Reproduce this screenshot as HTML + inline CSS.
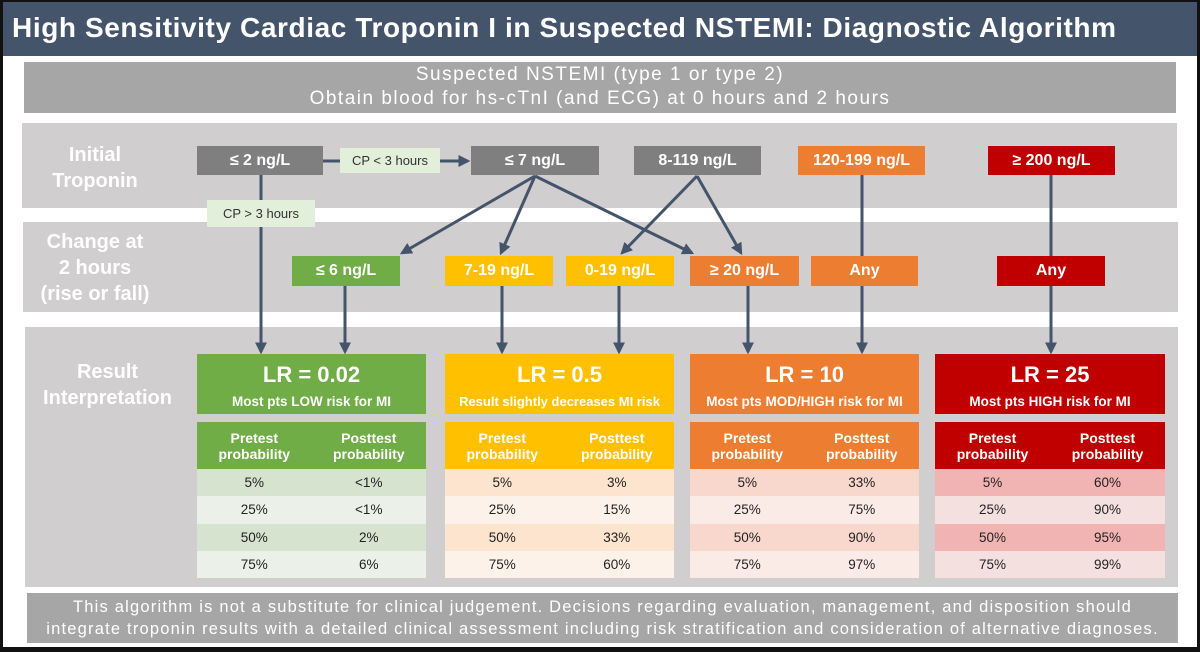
<!DOCTYPE html>
<html><head><meta charset="utf-8"><style>
*{margin:0;padding:0;box-sizing:border-box}
body{width:1200px;height:652px;background:#fff;font-family:"Liberation Sans",sans-serif;position:relative;overflow:hidden}
.a{position:absolute}
.frame{left:0;top:0;width:1200px;height:652px;border:3px solid #111;border-top-width:2px;border-bottom-width:5px}
.band{background:#d0cece}
.lbl{color:#fff;font-weight:bold;font-size:20px;text-align:center;line-height:26px}
.bx{color:#fff;font-weight:bold;font-size:16px;display:flex;align-items:center;justify-content:center}
.cp{background:#e2efda;color:#333;font-size:13px;display:flex;align-items:center;justify-content:center}
.res{color:#fff;text-align:center;font-weight:bold}
.res .t{font-size:22px;padding-top:8px;line-height:26px}
.res .s{font-size:13.5px;margin-top:6px;white-space:nowrap}
table{border-collapse:collapse;width:229px;font-size:13.5px;color:#222;text-align:center}
th{color:#fff;height:47px;font-size:14px;line-height:16px;width:50%}
td{height:27.3px}
</style></head><body>
<div class="a" style="left:0;top:0;width:1200px;height:56px;background:#44546a;color:#fff;font-weight:bold;font-size:28px;letter-spacing:0.6px;line-height:56px;padding-left:12px;white-space:nowrap">High Sensitivity Cardiac Troponin I in Suspected NSTEMI: Diagnostic Algorithm</div>
<div class="a" style="left:24px;top:62px;width:1152px;height:51px;background:#a6a6a6;color:#fff;font-size:19px;letter-spacing:1.5px;text-align:center;line-height:24px;padding-top:1px;white-space:nowrap">Suspected NSTEMI (type 1 or type 2)<br>Obtain blood for hs-cTnI (and ECG) at 0 hours and 2 hours</div>
<div class="a band" style="left:22px;top:123px;width:1155px;height:85px"></div>
<div class="a band" style="left:23px;top:222px;width:1155px;height:90px"></div>
<div class="a band" style="left:25px;top:327px;width:1153px;height:260px"></div>
<div class="a" style="left:27px;top:593px;width:1151px;height:50px;background:#a6a6a6;color:#fff;font-size:16.5px;letter-spacing:1.2px;text-align:center;line-height:22px;padding-top:3px;white-space:nowrap">This algorithm is not a substitute for clinical judgement. Decisions regarding evaluation, management, and disposition should<br>integrate troponin results with a detailed clinical assessment including risk stratification and consideration of alternative diagnoses.</div>
<div class="a lbl" style="left:25px;top:142px;width:140px">Initial<br>Troponin</div>
<div class="a lbl" style="left:20px;top:229px;width:150px">Change at<br>2 hours<br>(rise or fall)</div>
<div class="a lbl" style="left:25px;top:359px;width:165px">Result<br>Interpretation</div>

<svg class="a" style="left:0;top:0" width="1200" height="652">
<defs><marker id="ah" markerWidth="4" markerHeight="4" refX="3.2" refY="2" orient="auto" markerUnits="strokeWidth"><path d="M0,0L4,2L0,4z" fill="#44546a"/></marker></defs>
<g stroke="#44546a" stroke-width="3" fill="none" marker-end="url(#ah)">
<line x1="323" y1="161" x2="468" y2="161"/>
<line x1="261" y1="175" x2="261" y2="352"/>
<line x1="345" y1="286" x2="345" y2="352"/>
<line x1="535" y1="176" x2="402" y2="253"/>
<line x1="535" y1="176" x2="501" y2="253"/>
<line x1="535" y1="176" x2="692" y2="253"/>
<line x1="697" y1="176" x2="622" y2="253"/>
<line x1="697" y1="176" x2="741" y2="253"/>
<line x1="502" y1="286" x2="502" y2="352"/>
<line x1="619" y1="286" x2="619" y2="352"/>
<line x1="748" y1="286" x2="748" y2="352"/>
<line x1="862" y1="286" x2="862" y2="352"/>
<line x1="1051" y1="286" x2="1051" y2="352"/>
</g>
<g stroke="#44546a" stroke-width="3"><line x1="862" y1="175" x2="862" y2="256"/><line x1="1051" y1="175" x2="1051" y2="256"/></g>
</svg>

<div class="a cp" style="left:340px;top:148px;width:100px;height:25px">CP &lt; 3 hours</div>
<div class="a cp" style="left:207px;top:200px;width:108px;height:27px">CP &gt; 3 hours</div>

<div class="a bx" style="left:197px;top:146px;width:126px;height:29px;background:#7f7f7f">≤ 2 ng/L</div>
<div class="a bx" style="left:471px;top:146px;width:128px;height:29px;background:#7f7f7f">≤ 7 ng/L</div>
<div class="a bx" style="left:634px;top:146px;width:127px;height:29px;background:#7f7f7f">8-119 ng/L</div>
<div class="a bx" style="left:798px;top:146px;width:127px;height:29px;background:#ed7d31">120-199 ng/L</div>
<div class="a bx" style="left:988px;top:146px;width:127px;height:29px;background:#c00000">≥ 200 ng/L</div>

<div class="a bx" style="left:292px;top:256px;width:108px;height:30px;background:#70ad47">≤ 6 ng/L</div>
<div class="a bx" style="left:445px;top:256px;width:108px;height:30px;background:#ffc000">7-19 ng/L</div>
<div class="a bx" style="left:566px;top:256px;width:108px;height:30px;background:#ffc000">0-19 ng/L</div>
<div class="a bx" style="left:690px;top:256px;width:109px;height:30px;background:#ed7d31">≥ 20 ng/L</div>
<div class="a bx" style="left:811px;top:256px;width:107px;height:30px;background:#ed7d31">Any</div>
<div class="a bx" style="left:997px;top:256px;width:108px;height:30px;background:#c00000">Any</div>

<div class="a res" style="left:197px;top:354px;width:229px;height:60px;background:#70ad47"><div class="t">LR = 0.02</div><div class="s">Most pts LOW risk for MI</div></div>
<div class="a res" style="left:445px;top:354px;width:229px;height:60px;background:#ffc000"><div class="t">LR = 0.5</div><div class="s" style="font-size:13px">Result slightly decreases MI risk</div></div>
<div class="a res" style="left:690px;top:354px;width:229px;height:60px;background:#ed7d31"><div class="t">LR = 10</div><div class="s">Most pts MOD/HIGH risk for MI</div></div>
<div class="a res" style="left:935px;top:354px;width:230px;height:60px;background:#c00000"><div class="t">LR = 25</div><div class="s">Most pts HIGH risk for MI</div></div>

<table class="a" style="left:197px;top:422px"><tr style="background:#70ad47"><th>Pretest<br>probability</th><th>Posttest<br>probability</th></tr>
<tr style="background:#d5e3cf"><td>5%</td><td>&lt;1%</td></tr><tr style="background:#ebf1e9"><td>25%</td><td>&lt;1%</td></tr><tr style="background:#d5e3cf"><td>50%</td><td>2%</td></tr><tr style="background:#ebf1e9"><td>75%</td><td>6%</td></tr></table>
<table class="a" style="left:445px;top:422px"><tr style="background:#ffc000"><th>Pretest<br>probability</th><th>Posttest<br>probability</th></tr>
<tr style="background:#fce4cf"><td>5%</td><td>3%</td></tr><tr style="background:#fdf2e9"><td>25%</td><td>15%</td></tr><tr style="background:#fce4cf"><td>50%</td><td>33%</td></tr><tr style="background:#fdf2e9"><td>75%</td><td>60%</td></tr></table>
<table class="a" style="left:690px;top:422px"><tr style="background:#ed7d31"><th>Pretest<br>probability</th><th>Posttest<br>probability</th></tr>
<tr style="background:#f8d7cc"><td>5%</td><td>33%</td></tr><tr style="background:#fbebe6"><td>25%</td><td>75%</td></tr><tr style="background:#f8d7cc"><td>50%</td><td>90%</td></tr><tr style="background:#fbebe6"><td>75%</td><td>97%</td></tr></table>
<table class="a" style="left:935px;top:422px;width:230px"><tr style="background:#c00000"><th>Pretest<br>probability</th><th>Posttest<br>probability</th></tr>
<tr style="background:#f2b3b3"><td>5%</td><td>60%</td></tr><tr style="background:#f5e0e0"><td>25%</td><td>90%</td></tr><tr style="background:#f2b3b3"><td>50%</td><td>95%</td></tr><tr style="background:#f5e0e0"><td>75%</td><td>99%</td></tr></table>

<div class="a frame"></div>
</body></html>
